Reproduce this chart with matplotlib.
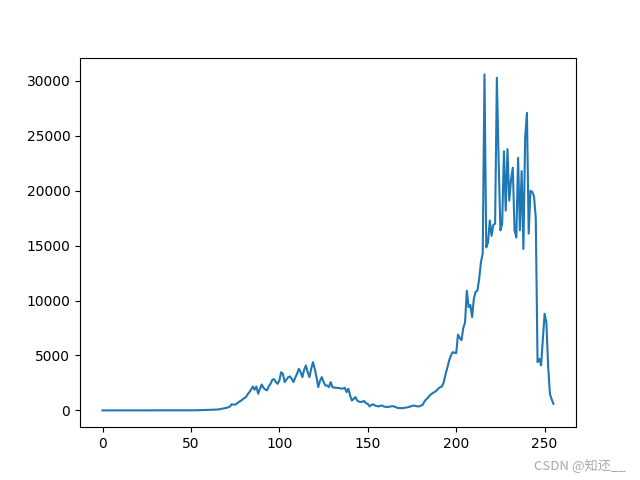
import matplotlib
matplotlib.use('Agg')
import matplotlib.pyplot as plt

# grayscale histogram, 256 bins
hist_low = [
    0, 0, 0, 0, 0, 0, 0, 0, 0, 0,
    0, 0, 0, 0, 0, 0, 0, 0, 0, 0,
    0, 0, 0, 0, 0, 0, 0, 0, 0, 0,
    0, 0, 0, 0, 0, 0, 0, 0, 0, 0,
    0, 0, 0, 0, 0, 0, 0, 0, 0, 0,
    5, 8, 10, 12, 15, 20, 25, 30, 35, 40,
    45, 50, 55, 60, 70, 80, 100, 130, 160, 190,
    230, 280, 350, 550, 530, 520, 620, 760, 850, 980,
]
hist_mid = [
    1100, 1200, 1450, 1660, 1900, 2180, 1880, 2180, 1520, 1950,
    2360, 2060, 1900, 1820, 2200, 2420, 2790, 2850, 2600, 2420,
    2730, 3480, 3330, 2580, 2800, 3030, 3090, 2880, 2580, 3000,
    3330, 3790, 3480, 3030, 3700, 4090, 3480, 3030, 3790, 4390,
    3790, 3030, 2120, 2700, 3030, 2580, 2270, 2270, 2120, 2580,
    2120, 2080, 2060, 2040, 2030, 1970, 2000, 2060, 1670, 1970,
    1360, 900, 1050, 1210, 900, 800, 760, 800, 850, 650,
    600, 360, 500, 550, 450, 400, 360, 420, 450, 360,
    330, 300, 330, 360, 390, 350, 300, 210, 210, 210,
    210, 240, 270, 300, 350, 400, 450, 400, 370, 360,
]
hist_high = [
    430, 500, 800, 1000, 1150, 1350, 1500, 1600, 1700, 1820,
    2000, 2120, 2180, 2600, 3300, 3900, 4540, 5000, 5300, 5250,
    5210, 6900, 6600, 6400, 7500, 8000, 10900, 9400, 9600, 8500,
    10200, 10800, 10900, 12000, 13500, 14300, 30600, 14850, 15300, 17300,
    15900, 16900, 17000, 30300, 22700, 16400, 17000, 23600, 18200, 23800,
    19100, 21000, 22100, 16400, 15750, 23000, 16400, 21800, 14700, 24850,
    27100, 16100, 20000, 19900, 19500, 17500, 4400, 4700, 4100, 6500,
    8800, 8000, 4000, 1500, 1000, 600,
]
hist = hist_low + hist_mid + hist_high

fig = plt.figure(figsize=(6.4, 4.8), dpi=100)
plt.plot(hist)

# watermark
fig.text(0.977, 0.015, 'CSDN @知还__', ha='right', va='bottom',
         fontsize=9.5, color='#a8a8a8',
         family=['Noto Sans CJK SC', 'DejaVu Sans'])

plt.savefig('out.png', dpi=100)
